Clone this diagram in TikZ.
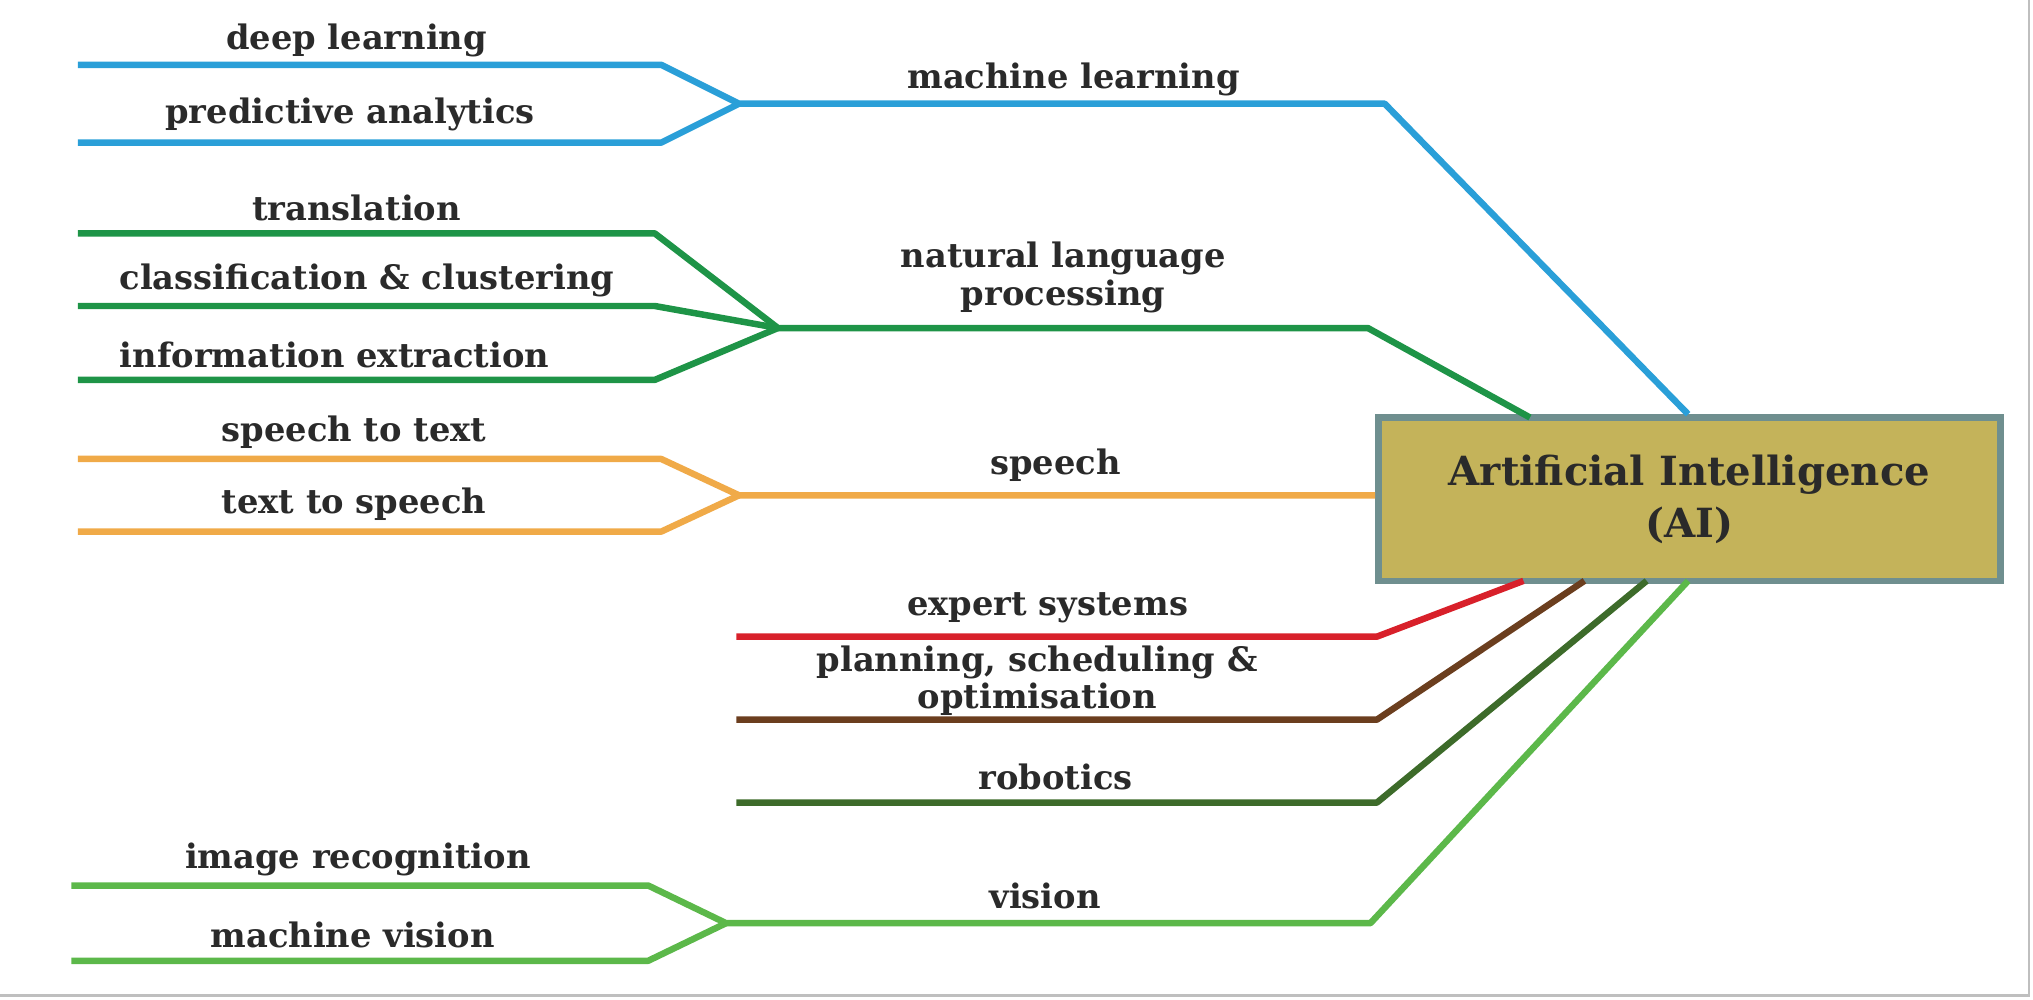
\documentclass[tikz,border=0pt]{standalone}
\usepackage{fontspec}
\setmainfont{DejaVu Serif}
\definecolor{mlblue}{HTML}{2A9FD8}
\definecolor{nlpgreen}{HTML}{1E9447}
\definecolor{speechorange}{HTML}{F0AA48}
\definecolor{expertred}{HTML}{D8202A}
\definecolor{planbrown}{HTML}{6B3E1E}
\definecolor{robotgreen}{HTML}{3D6B2A}
\definecolor{visiongreen}{HTML}{5CB84A}
\definecolor{aifill}{HTML}{C4B35A}
\definecolor{aiborder}{HTML}{6F8F8F}
\definecolor{txt}{HTML}{2A2A2A}
\tikzset{
  branch/.style={line width=5pt, line join=round},
  lbl/.style={font=\bfseries\fontsize{26}{28}\selectfont, text=txt, inner sep=0pt, align=center}
}
\begin{document}
\begin{tikzpicture}[x=1pt,y=-1pt]
\useasboundingbox (0,0) rectangle (1568,771);
\draw[gray!50, line width=2pt] (1565,0) -- (1565,768) -- (0,768);
% central box
\node[draw=aiborder, line width=5pt, fill=aifill, minimum width=480pt, minimum height=126pt, lbl, font=\bfseries\fontsize{31}{40}\selectfont] (ai) at (1303,385) {Artificial Intelligence\\(AI)};
% machine learning
\coordinate (ml1) at (60,50); \coordinate (ml1e) at (510,50);
\coordinate (ml2) at (60,110); \coordinate (ml2e) at (510,110);
\coordinate (mlj) at (570,80); \coordinate (mlk) at (1068,80);
\draw[branch, mlblue] (ml1) -- (ml1e) -- (mlj) -- (mlk) -- (ai.north west -| 1302,0);
\draw[branch, mlblue] (ml2) -- (ml2e) -- (mlj);
\node[lbl] (dl) at (275,31) {deep learning};
\node[lbl] (pa) at (270,88) {predictive analytics};
\node[lbl] (ml) at (828,61) {machine learning};
% natural language processing
\coordinate (nl1) at (60,180); \coordinate (nl1e) at (505,180);
\coordinate (nl2) at (60,236); \coordinate (nl2e) at (505,236);
\coordinate (nl3) at (60,293); \coordinate (nl3e) at (505,293);
\coordinate (nlj) at (600,253); \coordinate (nlk) at (1055,253);
\draw[branch, nlpgreen] (nl1) -- (nl1e) -- (nlj) -- (nlk) -- (1180,322);
\draw[branch, nlpgreen] (nl2) -- (nl2e) -- (nlj);
\draw[branch, nlpgreen] (nl3) -- (nl3e) -- (nlj);
\node[lbl] (tr) at (275,160) {translation};
\node[lbl] (cc) at (283,216) {classification \& clustering};
\node[lbl] (ie) at (258,274) {information extraction};
\node[lbl] (nlp) at (820,214) {natural language\\[1pt]processing};
% speech
\coordinate (sp1) at (60,354); \coordinate (sp1e) at (510,354);
\coordinate (sp2) at (60,410); \coordinate (sp2e) at (510,410);
\coordinate (spj) at (570,382);
\draw[branch, speechorange] (sp1) -- (sp1e) -- (spj) -- (ai.west |- spj);
\draw[branch, speechorange] (sp2) -- (sp2e) -- (spj);
\node[lbl] (stt) at (273,333) {speech to text};
\node[lbl] (tts) at (273,389) {text to speech};
\node[lbl] (sp) at (814,359) {speech};
% expert systems, planning, robotics
\coordinate (ex) at (568,491); \coordinate (exk) at (1062,491);
\draw[branch, expertred] (ex) -- (exk) -- (1175,448);
\node[lbl] (es) at (808,469) {expert systems};
\coordinate (pl) at (568,555); \coordinate (plk) at (1062,555);
\draw[branch, planbrown] (pl) -- (plk) -- (1222,448);
\node[lbl] (pso) at (800,525) {planning, scheduling \&\\[0pt]optimisation};
\coordinate (ro) at (568,619); \coordinate (rok) at (1062,619);
\draw[branch, robotgreen] (ro) -- (rok) -- (1270,448);
\node[lbl] (rob) at (814,599) {robotics};
% vision
\coordinate (vi1) at (55,683); \coordinate (vi1e) at (500,683);
\coordinate (vi2) at (55,741); \coordinate (vi2e) at (500,741);
\coordinate (vij) at (560,712); \coordinate (vik) at (1057,712);
\draw[branch, visiongreen] (vi1) -- (vi1e) -- (vij) -- (vik) -- (1302,448);
\draw[branch, visiongreen] (vi2) -- (vi2e) -- (vij);
\node[lbl] (ir) at (276,663) {image recognition};
\node[lbl] (mv) at (272,721) {machine vision};
\node[lbl] (vis) at (806,691) {vision};
\end{tikzpicture}
\end{document}
